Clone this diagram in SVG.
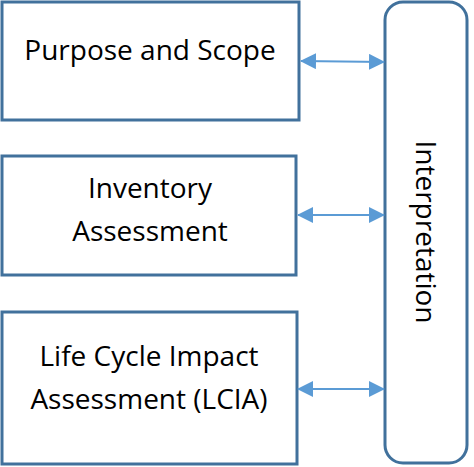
<svg xmlns="http://www.w3.org/2000/svg" width="474" height="467" viewBox="0 0 474 467">
<defs>
<style>
.box{fill:#fff;stroke:#41719c;stroke-width:3}
.t{font-family:"Open Sans","Liberation Sans",sans-serif;font-size:28px;fill:#000;text-anchor:middle}
.c{stroke:#5b9bd5;stroke-width:2;fill:none}
</style>
<marker id="ah" viewBox="0 0 16 16" refX="15" refY="8" markerWidth="16" markerHeight="16" markerUnits="userSpaceOnUse" orient="auto-start-reverse">
<path d="M0,0 L16,8 L0,16 Z" fill="#5b9bd5"/>
</marker>
</defs>
<rect width="474" height="467" fill="#fff"/>
<g id="purpose">
<rect class="box" x="2" y="2" width="297" height="118"/>
<text class="t" x="150" y="60">Purpose and Scope</text>
</g>
<g id="inventory">
<rect class="box" x="2" y="156" width="294" height="119"/>
<text class="t" x="150" y="198">Inventory</text>
<text class="t" x="150" y="241">Assessment</text>
</g>
<g id="lcia">
<rect class="box" x="2" y="312" width="295" height="152"/>
<text class="t" x="149" y="366">Life Cycle Impact</text>
<text class="t" x="149" y="409">Assessment (LCIA)</text>
</g>
<g id="interpretation">
<rect class="box" x="385" y="2" width="82" height="461" rx="18" ry="18"/>
<text class="t" transform="translate(416,232) rotate(90)">Interpretation</text>
</g>
<g id="connectors">
<line class="c" x1="301" y1="61" x2="384" y2="62" marker-start="url(#ah)" marker-end="url(#ah)"/>
<line class="c" x1="298" y1="215" x2="384" y2="215" marker-start="url(#ah)" marker-end="url(#ah)"/>
<line class="c" x1="298" y1="389" x2="384" y2="389" marker-start="url(#ah)" marker-end="url(#ah)"/>
</g>
</svg>
